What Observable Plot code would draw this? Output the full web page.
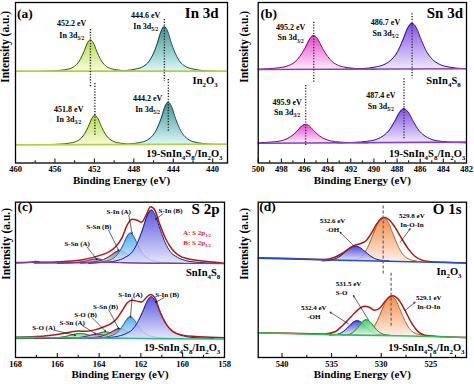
<!DOCTYPE html>
<html><head><meta charset="utf-8">
<script src="https://cdn.jsdelivr.net/npm/d3@7"></script>
<script src="https://cdn.jsdelivr.net/npm/@observablehq/plot@0.6"></script>
<style>
body{margin:0;background:#fff;}
#wrap{position:relative;width:474px;height:384px;overflow:hidden;background:#fff;}
</style></head><body><div id="wrap"></div>
<script>
// ---------------- tick values ----------------
const aMajor = [460,456,452,448,444,440], aMinor = [458,454,450,446,442];
const bMajor = [500,498,496,494,492,490,488,486,484,482], bMinor = [499,497,495,493,491,489,487,485,483];
const cMajor = [168,166,164,162,160,158], cMinor = [167,165,163,161,159];
const dMajor = [540,535,530,525], dMinor = [537.5,532.5,527.5,522.5];

// ---------------- panel (a) In 3d ----------------
const aOffTop = 57.2, aOffBot = 11.5;
const aBaseTop = [[460,57.2],[438.5,57.3]];
const aBaseBot = [[460,11.3],[438.5,11.7]];
const aTop32_E = [456.96,455.88,455.04,454.26,453.78,453.42,453.06,452.7,452.4,452.1,451.74,451.38,451.02,450.54,449.76,448.92,447.84];
const aTop32_V = [0,0.3,0.9,2.1,4.3,7.4,12.1,17.6,19.5,17.6,12.1,7.4,4.3,2.1,0.9,0.3,0];
const aTop52_E = [450.06,448.8,447.84,447.0,446.46,446.04,445.62,445.22,444.9,444.58,444.18,443.76,443.34,442.8,441.96,441.0,439.74];
const aTop52_V = [0,0.4,1.3,3.1,6.1,10.6,17.2,25.0,27.8,25.0,17.2,10.6,6.1,3.1,1.3,0.4,0];
const aBot32_E = [456.51,455.43,454.59,453.81,453.33,452.97,452.61,452.25,451.95,451.65,451.29,450.93,450.57,450.09,449.31,448.47,447.39];
const aBot32_V = [0,0.27,0.81,2.0,4.0,6.9,11.2,16.3,18.1,16.3,11.2,6.9,4.0,2.0,0.81,0.27,0];
const aBot52_E = [449.66,448.4,447.44,446.6,446.06,445.64,445.22,444.82,444.5,444.18,443.78,443.36,442.94,442.4,441.56,440.6,439.34];
const aBot52_V = [0,0.4,1.2,2.9,5.8,10.0,16.4,23.8,26.4,23.8,16.4,10.0,5.8,2.9,1.2,0.4,0];
const aDots = [{x:452.4,y1:83.2,y2:47.0},{x:444.9,y1:89.4,y2:50.8},{x:451.95,y1:49.5,y2:17.1},{x:444.5,y1:52.0,y2:19.0}];
const aLabels = [
  {x:454.3,y:86.9,t:"452.2 eV"},{x:454.3,y:79.6,t:"In 3d_{3/2}"},
  {x:446.8,y:91.9,t:"444.6 eV"},{x:446.8,y:85.0,t:"In 3d_{5/2}"},
  {x:454.6,y:33.2,t:"451.8 eV"},{x:454.6,y:27.0,t:"In 3d_{3/2}"},
  {x:446.6,y:40.0,t:"444.2 eV"},{x:446.6,y:33.6,t:"In 3d_{5/2}"}];
const aSamples = [{x:439.5,y:51.4,t:"In_2O_3"},{x:439.0,y:5.9,t:"19-SnIn_4S_8/In_2O_3"}];
const aTitle = [{x:439.4,y:93.1,t:"In 3d"}], aTag = [{x:459.85,y:93.1,t:"(a)"}];

// ---------------- panel (b) Sn 3d ----------------
const bOffTop = 58.4, bOffBot = 12.5;
const bBaseTop = [[500,58.3],[482,58.7]];
const bBaseBot = [[500,12.3],[482,13.0]];
const bTop32_E = [500.6,499.22,498.2,497.36,496.82,496.4,495.96,495.54,495.2,494.86,494.44,494.0,493.58,493.04,492.2,491.18,489.8];
const bTop32_V = [0,0.32,0.95,2.3,4.6,8.0,13.0,18.9,21.0,18.9,13.0,8.0,4.6,2.3,0.95,0.32,0];
const bTop52_E = [492.46,491.02,489.94,489.04,488.44,487.96,487.52,487.06,486.7,486.34,485.88,485.44,484.96,484.36,483.46,482.38,480.94];
const bTop52_V = [0,0.43,1.3,3.2,6.3,10.9,17.8,25.9,28.7,25.9,17.8,10.9,6.3,3.2,1.3,0.43,0];
const bBot32_E = [501.3,499.92,498.9,498.06,497.52,497.1,496.66,496.24,495.9,495.56,495.14,494.7,494.28,493.74,492.9,491.88,490.5];
const bBot32_V = [0,0.17,0.52,1.27,2.55,4.4,7.2,10.4,11.6,10.4,7.2,4.4,2.55,1.27,0.52,0.17,0];
const bBot52_E = [493.16,491.72,490.64,489.74,489.14,488.66,488.22,487.76,487.4,487.04,486.58,486.14,485.66,485.06,484.16,483.08,481.64];
const bBot52_V = [0,0.32,0.96,2.34,4.69,8.09,13.2,19.2,21.3,19.2,13.2,8.09,4.69,2.34,0.96,0.32,0];
const bDots = [{x:495.2,y1:87.7,y2:49.7},{x:486.7,y1:93.0,y2:52.5},{x:495.9,y1:48.3,y2:10.9},{x:487.4,y1:52.5,y2:15.1}];
const bLabels = [
  {x:497.2,y:84.6,t:"495.2 eV"},{x:497.2,y:78.0,t:"Sn 3d_{3/2}"},
  {x:489.0,y:87.7,t:"486.7 eV"},{x:489.0,y:80.9,t:"Sn 3d_{5/2}"},
  {x:497.5,y:37.9,t:"495.9 eV"},{x:497.5,y:31.7,t:"Sn 3d_{3/2}"},
  {x:489.4,y:42.1,t:"487.4 eV"},{x:489.4,y:35.2,t:"Sn 3d_{5/2}"}];
const bSamples = [{x:482.5,y:51.4,t:"SnIn_4S_8"},{x:482.1,y:5.9,t:"19-SnIn_4S_8/In_2O_3"}];
const bTitle = [{x:482.3,y:93.1,t:"Sn 3d"}], bTag = [{x:499.8,y:93.1,t:"(b)"}];

// ---------------- panel (c) S 2p ----------------
const cOffTop = 60.7, cOffBot = 12.2;
const cBaseTop = [[168,61.2],[163.5,61.2],[161.5,60.8],[158,60.4]];
const cBaseBot = [[168,13.0],[164,12.6],[161,12.1],[158,11.9]];
const cInB_E = [164.5,163.8,163.2,162.75,162.4,162.17,161.93,161.69,161.5,161.31,161.07,160.83,160.6,160.25,159.8,159.2,158.5];
const cInA_E = [164.9,164.3,163.85,163.48,163.22,163.03,162.84,162.65,162.5,162.35,162.16,161.97,161.78,161.52,161.15,160.7,160.1];
const cSnB_E = [166.0,165.3,164.7,164.25,163.9,163.67,163.43,163.19,163.0,162.81,162.57,162.33,162.1,161.75,161.3,160.7,160.0];
const cSnA_E = [167.1,166.4,165.8,165.35,165.0,164.77,164.53,164.29,164.1,163.91,163.67,163.43,163.2,162.85,162.4,161.8,161.1];
const cSOB_E = [167.0,166.2,165.55,165.05,164.7,164.44,164.17,163.91,163.7,163.49,163.23,162.96,162.7,162.35,161.85,161.2,160.4];
const cSOA_E = [168.2,167.4,166.75,166.25,165.9,165.64,165.37,165.11,164.9,164.69,164.43,164.16,163.9,163.55,163.05,162.4,161.6];
const cInBTop_V = [0,0.5,1.5,3.8,7.5,13.0,21.3,30.9,34.3,30.9,21.3,13.0,7.5,3.8,1.5,0.5,0];
const cInATop_V = [0,0.29,0.87,2.13,4.27,7.37,12.0,17.5,19.4,17.5,12.0,7.37,4.27,2.13,0.87,0.29,0];
const cSnBTop_V = [0,0.12,0.37,0.9,1.8,3.1,5.1,7.4,8.2,7.4,5.1,3.1,1.8,0.9,0.37,0.12,0];
const cSnATop_V = [0,0.04,0.13,0.31,0.62,1.06,1.74,2.52,2.8,2.52,1.74,1.06,0.62,0.31,0.13,0.04,0];
const cInBBot_V = [0,0.4,1.2,3.0,5.9,10.2,16.7,24.2,26.9,24.2,16.7,10.2,5.9,3.0,1.2,0.4,0];
const cInABot_V = [0,0.21,0.63,1.54,3.08,5.32,8.68,12.6,14.0,12.6,8.68,5.32,3.08,1.54,0.63,0.21,0];
const cSnBBot_V = [0,0.1,0.29,0.72,1.43,2.47,4.03,5.85,6.5,5.85,4.03,2.47,1.43,0.72,0.29,0.1,0];
const cSnABot_V = [0,0.04,0.13,0.31,0.62,1.06,1.74,2.52,2.8,2.52,1.74,1.06,0.62,0.31,0.13,0.04,0];
const cSOBBot_V = [0,0.06,0.19,0.47,0.95,1.63,2.67,3.87,4.3,3.87,2.67,1.63,0.95,0.47,0.19,0.06,0];
const cSOABot_V = [0,0.05,0.15,0.36,0.73,1.25,2.05,2.97,3.3,2.97,2.05,1.25,0.73,0.36,0.15,0.05,0];
const cEnvTop = [[168.0,60.9],[167.3,61.4],[167.04,61.8],[166.8,61.4],[166.4,61.3],[165.6,61.9],[164.8,63.0],[164.33,64.3],[164.0,65.6],[163.53,68.0],[163.22,71.2],[162.9,77.2],[162.66,85.2],[162.42,89.0],[162.18,88.4],[161.97,87.1],[161.75,91.6],[161.54,97.0],[161.33,94.8],[161.11,86.2],[160.82,76.6],[160.5,69.5],[160.19,65.8],[159.71,63.4],[159.07,62.2],[158.43,61.3],[158.0,60.6]];
const cEnvBot = [[168.0,13.1],[167.0,13.5],[166.4,14.2],[165.8,15.3],[165.4,16.3],[165.0,17.0],[164.6,16.9],[164.2,17.8],[163.8,19.6],[163.45,21.7],[163.2,24.3],[162.9,30.1],[162.66,35.1],[162.42,36.8],[162.18,36.3],[161.97,35.7],[161.75,38.5],[161.54,40.6],[161.33,38.5],[161.11,30.3],[160.82,22.1],[160.5,17.0],[160.0,14.4],[159.4,13.5],[158.7,13.1],[158.0,12.7]];
const cLabels = [
  {x:160.58,y:94.7,t:"S-In (B)"},{x:163.06,y:93.6,t:"S-In (A)"},{x:164.01,y:83.9,t:"S-Sn (B)"},{x:165.05,y:73.2,t:"S-Sn (A)"},
  {x:162.5,y:40.6,t:"S-In (A)"},{x:160.74,y:40.4,t:"S-In (B)"},{x:163.69,y:32.8,t:"S-Sn (B)"},{x:164.65,y:27.5,t:"S-O (B)"},
  {x:165.29,y:22.3,t:"S-Sn (A)"},{x:166.65,y:18.9,t:"S-O (A)"}];
const cNotes = [{x:159.31,y:80.3,t:"A: S 2p_{1/2}"},{x:159.31,y:73.6,t:"B: S 2p_{3/2}"}];
const cArrows = [[160.95,92.5,161.3,89.0],[162.58,91.4,162.42,79.7],[163.54,81.8,163.06,68.9],[164.57,71.0,164.09,62.9],
  [160.9,38.4,161.3,35.6],[162.42,38.4,162.5,26.0],[163.54,30.7,163.06,18.5],[164.33,25.6,163.69,16.9],[164.81,20.6,164.17,15.3],[166.09,17.4,165.13,14.2]];
const cSamples = [{x:158.2,y:54.5,t:"SnIn_4S_8"},{x:158.2,y:6.6,t:"19-SnIn_4S_8/In_2O_3"}];
const cTitle = [{x:158.24,y:95.7,t:"S 2p"}], cTag = [{x:167.9,y:96.8,t:"(c)"}];

// ---------------- panel (d) O 1s ----------------
const dOffTop = 62.2, dOffBot = 14.4;
const dBaseTop = [[542.4,64.0],[537,63.2],[534,62.6],[527,61.7],[521.4,60.8]];
const dBaseBot = [[542.4,15.9],[537,15.0],[534,14.6],[527,13.8],[521.4,12.9]];
const dOHTop_E = [535.96,535.48,535.0,534.52,534.04,533.56,533.08,532.6,532.12,531.64,531.16,530.68,530.2,529.72,529.24];
const dOHTop_V = [0,0.18,0.59,1.61,3.5,6.09,8.5,9.5,8.5,6.09,3.5,1.61,0.59,0.18,0];
const dInOTop_E = [533.16,532.68,532.2,531.72,531.24,530.76,530.28,529.8,529.32,528.84,528.36,527.88,527.4,526.92,526.44];
const dInOTop_V = [0,0.52,1.75,4.73,10.3,17.9,25.1,28,25.1,17.9,10.3,4.73,1.75,0.52,0];
const dOHBot_E = [535.2,534.8,534.4,534.0,533.6,533.2,532.8,532.4,532.0,531.6,531.2,530.8,530.4,530.0,529.6];
const dOHBot_V = [0,0.17,0.58,1.57,3.42,5.96,8.32,9.3,8.32,5.96,3.42,1.57,0.58,0.17,0];
const dSOBot_E = [533.88,533.54,533.2,532.86,532.52,532.18,531.84,531.5,531.16,530.82,530.48,530.14,529.8,529.46,529.12];
const dSOBot_V = [0,0.18,0.62,1.67,3.64,6.35,8.86,9.9,8.86,6.35,3.64,1.67,0.62,0.18,0];
const dInOBot_E = [532.22,531.76,531.3,530.84,530.38,529.92,529.46,529.0,528.54,528.08,527.62,527.16,526.7,526.24,525.78];
const dInOBot_V = [0,0.47,1.58,4.28,9.31,16.2,22.6,25.3,22.6,16.2,9.31,4.28,1.58,0.47,0];
const dEnvTop = [[542.4,64.2],[539,63.7],[537.3,63.3],[535.7,63.1],[534.8,64.2],[534.0,66.8],[533.3,70.0],[532.6,72.4],[532.0,73.6],[531.5,75.3],[530.95,80.5],[530.45,86.0],[529.95,89.6],[529.65,90.2],[529.1,88.0],[528.6,83.8],[527.9,76.2],[527.25,69.8],[526.6,65.2],[525.9,62.7],[524.9,61.6],[523,61.2],[521.4,60.9]];
const dEnvBot = [[542.4,16.0],[539,15.6],[535.7,15.2],[534.65,16.6],[534.0,20.0],[533.3,24.5],[532.65,28.8],[532.15,31.8],[531.65,33.0],[531.15,32.2],[530.65,30.4],[530.1,32.0],[529.6,36.3],[529.1,39.2],[528.8,39.8],[528.3,37.6],[527.6,30.3],[526.9,21.8],[526.25,16.5],[525.6,14.4],[524.2,13.6],[521.4,12.9]];
const dDash = [{x:529.8,y1:97.5,y2:52.9},{x:529.0,y1:54.3,y2:20}];
const dLabels = [
  {x:534.9,y:87.8,t:"532.6 eV"},{x:534.9,y:82.2,t:"-OH"},
  {x:526.9,y:91.4,t:"529.8 eV"},{x:526.9,y:85.6,t:"In-O-In"},
  {x:533.3,y:47.8,t:"531.5 eV"},{x:534.0,y:41.9,t:"S-O"},
  {x:536.8,y:32.0,t:"532.4 eV"},{x:536.8,y:26.4,t:"-OH"},
  {x:525.2,y:38.4,t:"529.1 eV"},{x:525.2,y:32.4,t:"In-O-In"}];
const dArrows = [[532.8,72.1,534.15,80.7],[528.09,74.2,527.08,82.9],[531.29,24.3,532.8,39.9],[533.31,21.7,535.15,29.2],[527.58,30.3,526.58,35.6]];
const dSamples = [{x:521.9,y:55.4,t:"In_2O_3"},{x:521.6,y:6.6,t:"19-SnIn_4S_8/In_2O_3"}];
const dTitle = [{x:521.9,y:95.7,t:"O 1s"}], dTag = [{x:542.3,y:96.8,t:"(d)"}];

// ---------------- helpers ----------------
const FONT = '"Liberation Serif","Times New Roman",serif';
const zip = (E, V) => E.map((e, i) => [e, V[i]]);
const wrap = document.getElementById("wrap");
const NS = "http://www.w3.org/2000/svg";

function peak(data, off, grad, stroke, op = 0.85) {
  return [
    Plot.areaY(data, {x: d => d[0], y1: () => off, y2: d => d[1] + off, fill: `url(#${grad})`, fillOpacity: op, curve: "monotone-x", clip: true}),
    Plot.line(data, {x: d => d[0], y: d => d[1] + off, stroke, strokeWidth: 1, curve: "monotone-x", clip: true})
  ];
}
function baseLine(data, stroke, w = 1.5) {
  return Plot.line(data, {x: d => d[0], y: d => d[1], stroke, strokeWidth: w, clip: true});
}
function envelope(data, stroke) {
  return Plot.line(data, {x: d => d[0], y: d => d[1], stroke, strokeWidth: 1.5, curve: "monotone-x", clip: true});
}
function txt(data, o) { return Plot.text(data, {x: "x", y: "y", text: "t", ...o}); }

function addDefs(svg, grads) {
  const defs = document.createElementNS(NS, "defs");
  for (const [id, c1, c2] of grads) {
    const g = document.createElementNS(NS, "linearGradient");
    g.setAttribute("id", id); g.setAttribute("x1", 0); g.setAttribute("y1", 0); g.setAttribute("x2", 0); g.setAttribute("y2", 1);
    for (const [off, c] of [[0, c1], [1, c2]]) {
      const s = document.createElementNS(NS, "stop");
      s.setAttribute("offset", off); s.setAttribute("stop-color", c);
      g.appendChild(s);
    }
    defs.appendChild(g);
  }
  svg.insertBefore(defs, svg.firstChild);
}
// turn "_x" / "_{xy}" markers into lowered, smaller tspans
function subscripts(svg) {
  svg.querySelectorAll("text").forEach(t => {
    const s = t.textContent;
    if (!s.includes("_") || t.querySelector("tspan")) return;
    const fs = parseFloat(getComputedStyle(t).fontSize) || 10;
    const sh = 0.28 * fs;
    while (t.firstChild) t.removeChild(t.firstChild);
    let shifted = false;
    const add = (str, sub) => {
      const ts = document.createElementNS(NS, "tspan");
      if (sub) { ts.setAttribute("dy", shifted ? 0 : sh); ts.setAttribute("font-size", (0.66 * fs).toFixed(2)); shifted = true; }
      else if (shifted) { ts.setAttribute("dy", -sh); shifted = false; }
      ts.textContent = str; t.appendChild(ts);
    };
    const re = /_\{([^}]*)\}|_(\w)/g;
    let last = 0, m;
    while ((m = re.exec(s))) {
      if (m.index > last) add(s.slice(last, m.index), false);
      add(m[1] !== undefined ? m[1] : m[2], true);
      last = re.lastIndex;
    }
    if (last < s.length) add(s.slice(last), false);
  });
}

function panel(cfg) {
  const svg = Plot.plot({
    width: 237, height: 192,
    marginLeft: cfg.ml, marginRight: cfg.mr, marginTop: cfg.mt, marginBottom: cfg.mb,
    x: {domain: cfg.xd},
    y: {domain: [0, 100], axis: null},
    style: {fontFamily: FONT, fontSize: "9px", fontWeight: "bold", color: "#000", background: "transparent", overflow: "visible"},
    marks: [
      ...cfg.marks,
      Plot.ruleX(cfg.major, {y1: 0, y2: cfg.tick, stroke: "#000", strokeWidth: 1}),
      Plot.ruleX(cfg.minor, {y1: 0, y2: cfg.tick * 0.55, stroke: "#000", strokeWidth: 1}),
      Plot.axisX({ticks: cfg.major, tickSize: 0, tickPadding: 3, label: null, fontSize: 8.5}),
      Plot.frame({stroke: "#000", strokeWidth: 1.3}),
      Plot.text(["Binding Energy (eV)"], {text: d => d, frameAnchor: "bottom", dy: cfg.xdy, fontSize: 11}),
      Plot.text(["Intensity (a.u.)"], {text: d => d, frameAnchor: "left", rotate: -90, dx: cfg.ydx, fontSize: 11.5})
    ]
  });
  addDefs(svg, cfg.grads);
  svg.style.position = "absolute";
  svg.style.left = cfg.left + "px";
  svg.style.top = cfg.top + "px";
  wrap.appendChild(svg);
  subscripts(svg);
}

// ---------------- (a) ----------------
panel({
  left: 0, top: 0, ml: 15, mr: 10, mt: 2, mb: 29.5, xd: [460, 438.5], major: aMajor, minor: aMinor, tick: 2.5, xdy: 20.5, ydx: -10,
  grads: [["gaG", "#a6d22e", "#f6fbd6"], ["gaT", "#1c7d7e", "#d2f7f7"]],
  marks: [
    ...peak(zip(aTop32_E, aTop32_V), aOffTop, "gaG", "#3b5316"),
    ...peak(zip(aTop52_E, aTop52_V), aOffTop, "gaT", "#15484a"),
    ...peak(zip(aBot32_E, aBot32_V), aOffBot, "gaG", "#3b5316"),
    ...peak(zip(aBot52_E, aBot52_V), aOffBot, "gaT", "#15484a"),
    baseLine(aBaseTop, "#b5d136", 1.7), baseLine(aBaseBot, "#b5d136", 1.7),
    Plot.ruleX(aDots, {x: "x", y1: "y1", y2: "y2", stroke: "#222", strokeWidth: 1.4, strokeDasharray: "1.2,1.6"}),
    txt(aLabels, {fontSize: 8}),
    txt(aSamples, {fontSize: 10.5, textAnchor: "end"}),
    txt(aTitle, {fontSize: 15, textAnchor: "end"}),
    txt(aTag, {fontSize: 13.5, textAnchor: "start"})
  ]
});

// ---------------- (b) ----------------
panel({
  left: 237, top: 0, ml: 20.7, mr: 8, mt: 2, mb: 29.5, xd: [500, 482], major: bMajor, minor: bMinor, tick: 2.5, xdy: 20.5, ydx: -13.4,
  grads: [["gbM", "#e222c6", "#fde4f8"], ["gbP", "#6a2ee0", "#ece4fc"]],
  marks: [
    ...peak(zip(bTop32_E, bTop32_V), bOffTop, "gbM", "#7a0f68"),
    ...peak(zip(bTop52_E, bTop52_V), bOffTop, "gbP", "#2c1280"),
    ...peak(zip(bBot32_E, bBot32_V), bOffBot, "gbM", "#7a0f68"),
    ...peak(zip(bBot52_E, bBot52_V), bOffBot, "gbP", "#2c1280"),
    baseLine(bBaseTop, "#8a3ccc", 1.6), baseLine(bBaseBot, "#8a3ccc", 1.6),
    Plot.ruleX(bDots, {x: "x", y1: "y1", y2: "y2", stroke: "#333", strokeWidth: 1.4, strokeDasharray: "1.2,1.6"}),
    txt(bLabels, {fontSize: 8}),
    txt(bSamples, {fontSize: 10.5, textAnchor: "end"}),
    txt(bTitle, {fontSize: 15, textAnchor: "end"}),
    txt(bTag, {fontSize: 13.5, textAnchor: "start"})
  ]
});

// ---------------- (c) ----------------
panel({
  left: 0, top: 192, ml: 15, mr: 13, mt: 9.7, mb: 27, xd: [168, 158], major: cMajor, minor: cMinor, tick: 2.6, xdy: 20, ydx: -9,
  grads: [["gcB", "#2e2ed8", "#dedefa"], ["gcS", "#2a9cf0", "#d8effc"], ["gcM", "#8c4b5e", "#f2dee3"], ["gcV", "#a452b8", "#f0e0f6"], ["gcG", "#34d35a", "#d8f7de"]],
  marks: [
    ...peak(zip(cSnA_E, cSnATop_V), cOffTop, "gcV", "#6a2a80"),
    ...peak(zip(cSnB_E, cSnBTop_V), cOffTop, "gcM", "#5a2c3a"),
    ...peak(zip(cInA_E, cInATop_V), cOffTop, "gcS", "#2060a0"),
    ...peak(zip(cInB_E, cInBTop_V), cOffTop, "gcB", "#1a1a90", 0.8),
    envelope(cEnvTop, "#b01818"),
    baseLine(cBaseTop, "#7a3aa8", 1.2),
    ...peak(zip(cSOA_E, cSOABot_V), cOffBot, "gcG", "#1a8a36"),
    ...peak(zip(cSOB_E, cSOBBot_V), cOffBot, "gcG", "#1a8a36"),
    ...peak(zip(cSnA_E, cSnABot_V), cOffBot, "gcV", "#6a2a80"),
    ...peak(zip(cSnB_E, cSnBBot_V), cOffBot, "gcM", "#5a2c3a"),
    ...peak(zip(cInA_E, cInABot_V), cOffBot, "gcS", "#2060a0"),
    ...peak(zip(cInB_E, cInBBot_V), cOffBot, "gcB", "#1a1a90", 0.8),
    envelope(cEnvBot, "#b01818"),
    baseLine(cBaseBot, "#2ab88a", 1.4),
    Plot.arrow(cArrows, {x1: d => d[0], y1: d => d[1], x2: d => d[2], y2: d => d[3], stroke: "#000", strokeWidth: 0.6, headLength: 3}),
    txt(cLabels, {fontSize: 7}),
    txt(cNotes, {fontSize: 7, fill: "#e3202a"}),
    txt(cSamples, {fontSize: 10.5, textAnchor: "end"}),
    txt(cTitle, {fontSize: 15, textAnchor: "end"}),
    txt(cTag, {fontSize: 13.5, textAnchor: "start"})
  ]
});

// ---------------- (d) ----------------
panel({
  left: 237, top: 192, ml: 20.7, mr: 8, mt: 9.7, mb: 27, xd: [542.4, 521.4], major: dMajor, minor: dMinor, tick: 2.6, xdy: 20, ydx: -13.4,
  grads: [["gdB", "#2424d8", "#dedefa"], ["gdO", "#f07828", "#fdeadc"], ["gdG", "#22c844", "#d8f7de"]],
  marks: [
    ...peak(zip(dInOTop_E, dInOTop_V), dOffTop, "gdO", "#b86020"),
    ...peak(zip(dOHTop_E, dOHTop_V), dOffTop, "gdB", "#1414a0"),
    envelope(dEnvTop, "#a81818"),
    baseLine(dBaseTop, "#2848d0", 1.6),
    ...peak(zip(dInOBot_E, dInOBot_V), dOffBot, "gdO", "#b86020"),
    ...peak(zip(dOHBot_E, dOHBot_V), dOffBot, "gdB", "#1414a0"),
    ...peak(zip(dSOBot_E, dSOBot_V), dOffBot, "gdG", "#128a2a"),
    envelope(dEnvBot, "#a81818"),
    baseLine(dBaseBot, "#30c050", 1.6),
    Plot.ruleX(dDash, {x: "x", y1: "y1", y2: "y2", stroke: "#666", strokeWidth: 1.2, strokeDasharray: "3,2"}),
    Plot.arrow(dArrows, {x1: d => d[0], y1: d => d[1], x2: d => d[2], y2: d => d[3], stroke: "#000", strokeWidth: 0.6, headLength: 3.5}),
    txt(dLabels, {fontSize: 7}),
    txt(dSamples, {fontSize: 10.5, textAnchor: "end"}),
    txt(dTitle, {fontSize: 15, textAnchor: "end"}),
    txt(dTag, {fontSize: 13.5, textAnchor: "start"})
  ]
});
</script></body></html>
